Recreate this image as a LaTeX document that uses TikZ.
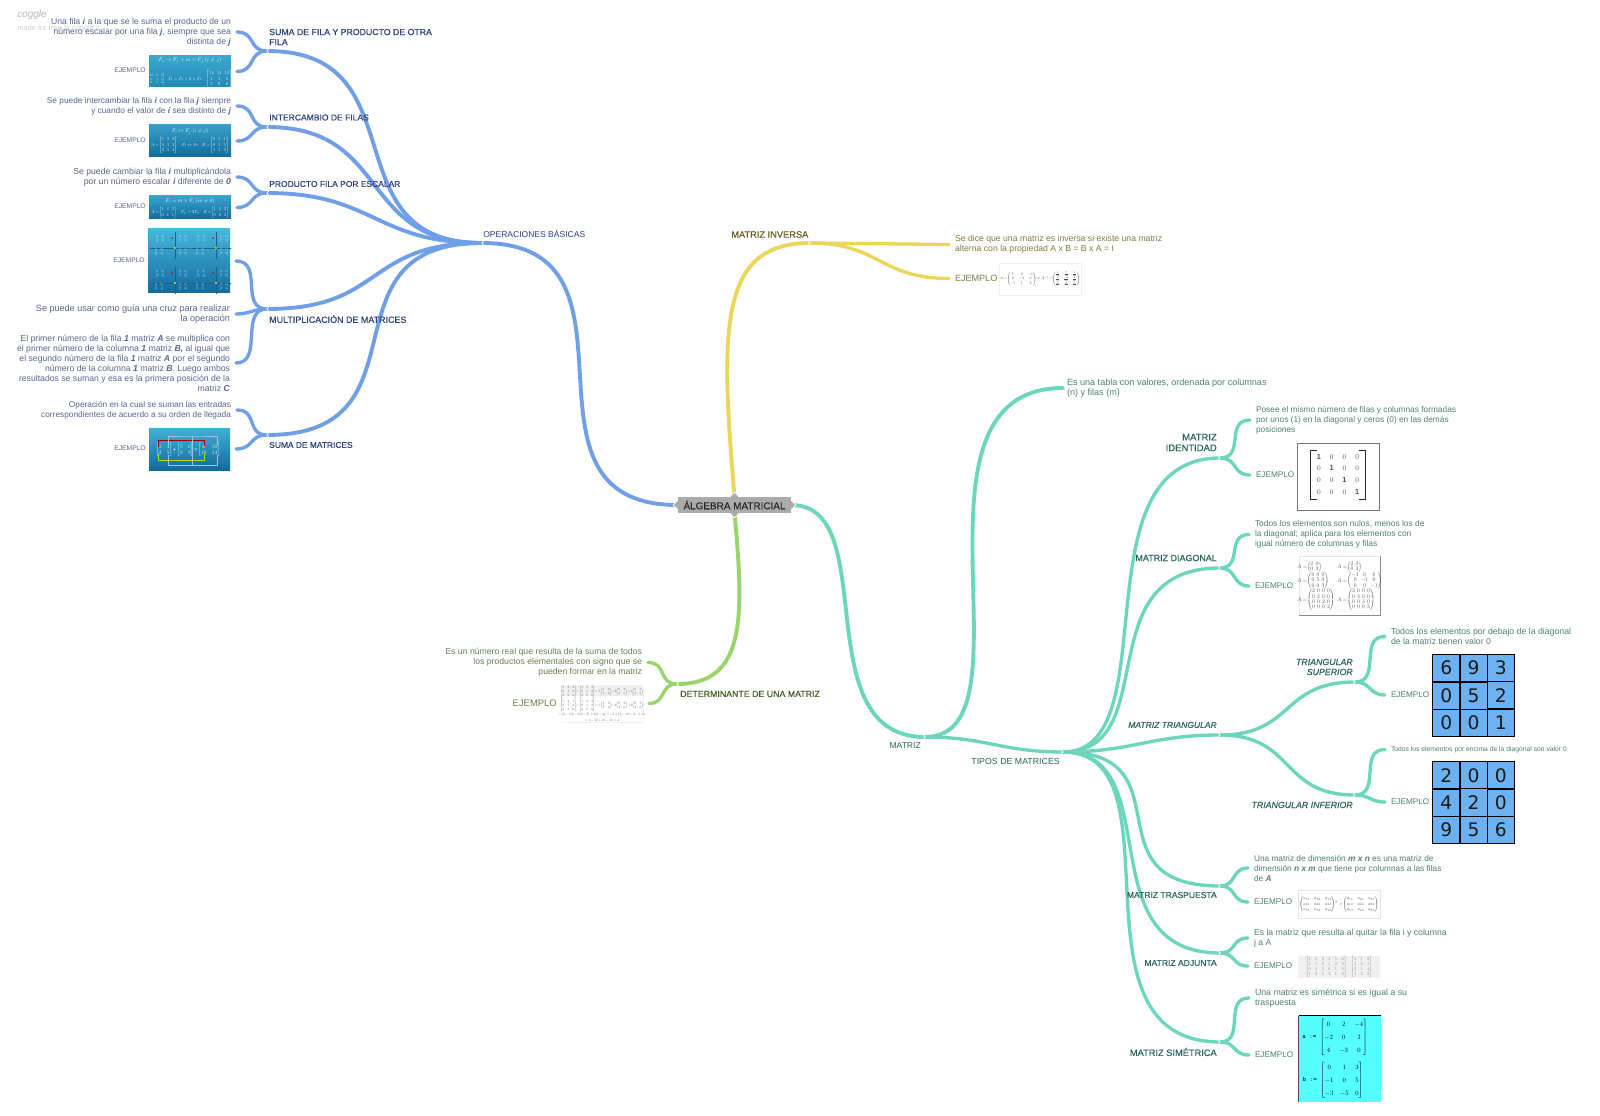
\documentclass[tikz,border=0pt]{standalone}
\usepackage{amsmath}
\usepackage{fontspec}
\setmainfont{Liberation Sans}
\newfontfamily\labelfont[FakeBold=0.25]{Liberation Sans}
\newfontfamily\digitfont{DejaVu Sans}
\usetikzlibrary{positioning,matrix,shapes.geometric,calc}
\pgfdeclarelayer{back}
\pgfsetlayers{back,main}
\definecolor{bluelink}{HTML}{6F9FE6}
\definecolor{yellowlink}{HTML}{ECD65A}
\definecolor{tealink}{HTML}{6AD6BE}
\definecolor{greenlink}{HTML}{98D46A}
\definecolor{bluetext}{HTML}{56678F}
\definecolor{bluelabel}{HTML}{2C4080}
\definecolor{yellowtext}{HTML}{857A45}
\definecolor{yellowlabel}{HTML}{6A5E1E}
\definecolor{tealtext}{HTML}{4F8076}
\definecolor{teallabel}{HTML}{28635A}
\definecolor{greentext}{HTML}{6B8052}
\definecolor{greenlabel}{HTML}{3F5E24}
\definecolor{cellblue}{HTML}{6CB2F2}
\definecolor{picdeep}{HTML}{126A9D}
\definecolor{picline}{HTML}{1A5F85}
\definecolor{picpale}{HTML}{9CC5DC}
\definecolor{symcyan}{HTML}{55FFFF}
\definecolor{pica}{HTML}{3AA8CF}
\definecolor{picb}{HTML}{2389B5}
\definecolor{picc}{HTML}{35A0C8}
\definecolor{picd}{HTML}{35A5CC}
\definecolor{pice}{HTML}{45B8DC}
\definecolor{picf}{HTML}{40B0D6}
\newcommand{\bi}[1]{\textbf{\textit{#1}}}
\newcommand{\fs}[1]{\fontsize{#1pt}{7.5pt}\selectfont}
\newcommand{\smat}[1]{$\left[\begin{matrix}#1\end{matrix}\right]$}
\newcommand{\rmat}[1]{$\left(\begin{matrix}#1\end{matrix}\right)$}
\tikzset{
  blink/.style={bluelink,line width=2.5pt,line cap=round},
  ylink/.style={yellowlink,line width=2.5pt,line cap=round},
  tlink/.style={tealink,line width=2.5pt,line cap=round},
  glink/.style={greenlink,line width=2.5pt,line cap=round},
  trunk/.style={line width=2.9pt},
  chev/.style={white,line width=.6pt},
  leaf/.style={inner sep=0pt,outer xsep=4.5pt,yshift=-.75pt,font=\fs{6.4}},
  bleaf/.style={leaf,anchor=east,align=right,bluetext},
  yleaf/.style={leaf,anchor=west,align=left,yellowtext},
  tleaf/.style={leaf,anchor=west,align=left,tealtext},
  gleaf/.style={leaf,anchor=east,align=right,greentext},
  lab/.style={inner sep=0pt,font=\labelfont\fs{6.4}},
  blab/.style={lab,anchor=west,align=left,bluelabel},
  tlab/.style={lab,anchor=east,align=right,teallabel},
  ejem/.style={inner sep=0pt,outer xsep=4.5pt,font=\fs{6.15}},
  pict/.style={inner sep=0pt,outer xsep=4.5pt},
  bluepic/.style={pict,anchor=east,top color=#1,bottom color=picdeep},
  pictxt/.style={inner sep=0pt,white,transform shape},
  darktxt/.style={inner sep=0pt,black!70,transform shape},
  digit/.style={draw=black,line width=.7pt,fill=cellblue,minimum size=20.3pt,inner sep=0pt,font=\digitfont\fontsize{14pt}{14pt}\selectfont,text=black!90},
  sidemark/.style={diamond,fill=black!33,draw=white,line width=.5pt,minimum size=7pt,inner sep=0pt},
}
\begin{document}
\begin{tikzpicture}[x=.75pt,y=-.75pt]
\useasboundingbox (0,0) rectangle (1600,1116);
% logo
\node[inner sep=0pt,anchor=west,black!28,font=\fontsize{7.5pt}{8pt}\itshape] (logo) at (17,15) {coggle};
\node[inner sep=0pt,anchor=west,black!18,font=\fontsize{5.6pt}{7pt}\selectfont] (madefor) at (17,29) {made for free at coggle.it};
% centre
\node[fill=black!33,minimum width=84.75pt,minimum height=12pt,inner sep=0pt,text=black!85,font=\labelfont\fontsize{7.45pt}{8pt}\selectfont] (ctr) at (734.5,505) {ÁLGEBRA MATRICIAL};
% joints
\foreach \n/\x/\y in {ops/482/243,suma/267/51,inter/267/127,prodf/267/193,mult/267/309,summ/267/435,
  inv/810/243,det/677/684,matz/925/737,tipos/1063/752,iden/1220/458,diag/1220/568,tria/1220/735,
  sup/1355/682,inf/1355/795,tras/1220/886,adju/1220/953,sime/1220/1042}
  \coordinate (\n) at (\x,\y);
% operaciones
\node[blab,font=\fs{6.4}] (opsl) at (483,233.5) {OPERACIONES BÁSICAS};
\node[blab,font=\labelfont\fs{6.56}] (sumal) at (269,37) {SUMA DE FILA Y PRODUCTO DE OTRA\\FILA};
\node[blab] (interl) at (269,117.5) {INTERCAMBIO DE FILAS};
\node[blab,font=\labelfont\fs{6.35}] (prodl) at (269,184) {PRODUCTO FILA POR ESCALAR};
\node[blab,font=\labelfont\fs{6.7}] (multl) at (269,319) {MULTIPLICACIÓN DE MATRICES};
\node[blab,font=\labelfont\fs{6.3}] (summl) at (269,445) {SUMA DE MATRICES};
\node[bleaf,font=\fs{6.45}] (sumat) at (237,31) {Una fila \bi{i} a la que se le suma el producto de un\\número escalar por una fila \bi{j}, siempre que sea\\distinta de \bi{j}};
\node[bleaf,font=\fs{6.23}] (intert) at (237,105) {Se puede intercambiar la fila \bi{i} con la fila \bi{j} siempre\\y cuando el valor de \bi{i} sea distinto de \bi{j}};
\node[bleaf,font=\fs{6.5}] (prodt) at (237,176) {Se puede cambiar la fila \bi{i} multiplicándola\\por un número escalar \bi{i} diferente de \bi{0}};
\node[bleaf,font=\fs{6.8}] (multa) at (236,313) {Se puede usar como guía una cruz para realizar\\la operación};
\node[bleaf,font=\fs{6.5}] (multb) at (236,362) {El primer número de la fila \bi{1} matriz \bi{A} se multiplica con\\el primer número de la columna \bi{1} matriz \bi{B,} al igual que\\el segundo número de la fila \bi{1} matriz \bi{A} por el segundo\\número de la columna \bi{1} matriz \bi{B}. Luego ambos\\resultados se suman y esa es la primera posición de la\\matriz \bi{C}};
\node[bleaf,font=\fs{6.23}] (summt) at (237,409) {Operación en la cual se suman las entradas\\correspondientes de acuerdo a su orden de llegada};
% ejemplos azules
\node[bluepic=pica,bottom color=picb,minimum width=61.5pt,minimum height=23.25pt] (sumap) at (237,71.5) {};
\node[bluepic=picc,minimum width=61.5pt,minimum height=24pt] (interp) at (237,141) {};
\node[bluepic=picd,minimum width=61.5pt,minimum height=17.25pt] (prodp) at (237,207.5) {};
\node[bluepic=pice,minimum width=61.5pt,minimum height=48pt] (multp) at (236,261) {};
\node[bluepic=picf,minimum width=60.75pt,minimum height=31.5pt] (summp) at (236,449) {};
\node[pictxt,scale=.42] (sumaf) at (190,60) {$F_i\to F_j+m\times F_j\ (i\neq j)$};
\node[pictxt,scale=.24] (sumam) at (190,79) {\smat{12&6&3\\1&3&5\\3&0&6}\quad\Large$F_1=F_1+2\times F_2$\quad\smat{14&12&13\\1&3&5\\3&0&6}};
\node[pictxt,scale=.4] (interf) at (190,131) {$F_i\leftrightarrow F_j\ (i\neq j)$};
\node[pictxt,scale=.23] (interm) at (190,145) {\Large$A=$\smat{1&5&2\\0&1&3\\2&5&1}\quad$F_1\leftrightarrow F_3$\quad\Large$B=$\smat{2&5&1\\0&1&3\\1&5&2}};
\node[pictxt,scale=.4] (prodf2) at (190,201) {$F_i=m\times F_i\ (m\neq 0)$};
\node[pictxt,scale=.23] (prodm) at (190,212.5) {\Large$A=$\smat{1&3&2\\0&4&1}\quad$F_2\to 2F_2$\quad\Large$B=$\smat{1&3&2\\0&8&2}};
% cruces
\foreach \qx/\qy/\qn in {150/232/a,191/232/b,150/267/c,191/267/d}{
  \draw[picline,line width=.35pt] (\qx,\qy+16) -- (\qx+40,\qy+16);
  \draw[picline,line width=.35pt] (\qx+25,\qy) -- (\qx+25,\qy+27);
  \node[pictxt,scale=.22] (qm\qn) at (\qx+10,\qy+7) {\smat{1&2\\3&4}};
  \node[pictxt,scale=.22] (qr\qn) at (\qx+33,\qy+7) {\smat{5&6\\7&8}};
  \node[pictxt,scale=.22] (qs\qn) at (\qx+9,\qy+20) {\smat{1&2\\3&4}};
  \node[pictxt,scale=.22] (qt\qn) at (\qx+33,\qy+20) {\smat{5&6\\7&8}};
  \fill[yellow!90!green] (\qx+25,\qy+16) circle (1.1);
  \fill[red!70!black] (\qx+22,\qy+6) circle (.8);
}
% suma de matrices
\draw[red!60!black,line width=.4pt] (158,447) |- (204,440) -- (204,447);
\draw[yellow!70!green,line width=.4pt] (158,454) |- (204,460) -- (204,454);
\draw[picpale,line width=.4pt] (168,445) |- (193,436) |- (217,436) -- (217,445);
\draw[picpale,line width=.4pt] (168,455) |- (192,465) -- (192,436);
\draw[picpale,line width=.4pt] (192,465) -| (217,455);
\node[pictxt,scale=.4] (summe) at (188,450) {\smat{1&4\\2&5}\,+\,\smat{5&6\\8&9}\,=\,\smat{6&10\\10&14}};
% ejemplo etiquetas azules
\foreach \n/\x/\y in {a/146/70,b/146/140,c/146/206,d/145/260,e/146/448}
  \node[inner sep=0pt,anchor=east,bluetext,font=\fs{5.05}] (bej\n) at (\x,\y) {EJEMPLO};
% inversa
\node[lab,anchor=west,yellowlabel,font=\labelfont\fs{6.95}] (invl) at (731,234.5) {MATRIZ INVERSA};
\node[yleaf,font=\fs{6.5}] (invt) at (949,243.5) {Se dice que una matriz es inversa si existe una matriz\\alterna con la propiedad A x B = B x A = I};
\node[ejem,anchor=west,yellowtext,font=\fs{6.8}] (invj) at (949,278.5) {EJEMPLO};
\node[draw=black!6,fill=white,minimum width=61.5pt,minimum height=24pt,inner sep=0pt] (invp) at (1040,279) {};
\node[darktxt,scale=.29] (invm) at (1040,279) {$A=$\rmat{1&2&-1\\2&-3&0\\-1&1&3}$\Rightarrow A^{-1}=$\rmat{\frac{3}{20}&\frac{7}{20}&\frac{3}{20}\\\frac{6}{20}&\frac{-2}{20}&\frac{2}{20}\\\frac{1}{20}&\frac{3}{20}&\frac{7}{20}}};
% determinante
\node[lab,anchor=west,greenlabel,font=\labelfont\fs{6.6}] (detl) at (680,694) {DETERMINANTE DE UNA MATRIZ};
\node[gleaf,font=\fs{6.5}] (dett) at (648,661.5) {Es un número real que resulta de la suma de todos\\los productos elementales con signo que se\\pueden formar en la matriz};
\node[fill=white,draw=black!5,minimum width=61.5pt,minimum height=27.5pt,pict] (detp) at (602,703.5) {};
\fill[black!6] (562,686) rectangle (642,696);
\node[darktxt,scale=.25,anchor=north,align=center] (detm) at (602,686) {\smat{1&2&3\\0&1&2\\4&5&6}$=$\smat{1&2&3\\0&1&2\\4&5&6}$=1$\rmat{1&2\\5&6}$-2$\rmat{0&2\\4&6}$+3$\rmat{0&1\\4&5}\\[3pt]\smat{1&2&3\\0&1&2\\4&5&6}$=$\smat{1&2&3\\0&1&2\\4&5&6}$=1$\rmat{1&2\\5&6}$-2$\rmat{0&2\\4&6}$+3$\rmat{0&1\\4&5}\\[4pt]$=(6-10)-2(0-8)+3(0-4)=-4+16-12+(1\cdot5\cdot6)$\\[6pt]$=4-12+16-12=4$};
\node[inner sep=0pt,anchor=east,greentext,font=\fs{7.07}] (detj) at (557,703) {EJEMPLO};
% matriz
\node[inner sep=0pt,anchor=east,teallabel,font=\fs{6.4}] (matzl) at (921,746) {MATRIZ};
\node[inner sep=0pt,anchor=east,teallabel,font=\fs{6.6}] (tipol) at (1060,761) {TIPOS DE MATRICES};
\node[inner sep=0pt,outer xsep=3pt,anchor=west,tealtext,align=left,yshift=-.75pt,font=\fontsize{6.8pt}{8pt}\selectfont] (tabla) at (1063,387) {Es una tabla con valores, ordenada por columnas\\(n) y filas (m)};
% tipos
\node[tlab,font=\labelfont\fontsize{7.1pt}{8pt}\selectfont] (idenl) at (1217,442.5) {MATRIZ\\IDENTIDAD};
\node[tlab,font=\labelfont\fs{6.7}] (diagl) at (1217,558) {MATRIZ DIAGONAL};
\node[tlab,font=\labelfont\itshape\fs{6.4}] (trial) at (1217,725) {MATRIZ TRIANGULAR};
\node[tlab,font=\labelfont\itshape\fs{6.6}] (supl) at (1353,667) {TRIANGULAR\\SUPERIOR};
\node[tlab,font=\labelfont\itshape\fs{6.6}] (infl) at (1353,805) {TRIANGULAR INFERIOR};
\node[tlab] (trasl) at (1217,895) {MATRIZ TRASPUESTA};
\node[tlab] (adjul) at (1217,963) {MATRIZ ADJUNTA};
\node[tlab,font=\labelfont\fs{6.95}] (simel) at (1217,1052) {MATRIZ SIMÉTRICA};
\node[tleaf,font=\fs{6.25}] (ident) at (1250,419) {Posee el mismo número de filas y columnas formadas\\por unos (1) en la diagonal y ceros (0) en las demás\\posiciones};
\node[tleaf,font=\fs{6.3}] (diagt) at (1249,533.5) {Todos los elementos son nulos, menos los de\\la diagonal; aplica para los elementos con\\igual número de columnas y filas};
\node[tleaf,font=\fs{6.55}] (supt) at (1385,635.5) {Todos los elementos por debajo de la diagonal\\de la matriz tienen valor 0};
\node[tleaf,font=\fs{5.07}] (inft) at (1385,748.5) {Todos los elementos por encima de la diagonal son valor 0};
\node[tleaf,font=\fs{6.23}] (trast) at (1248,867) {Una matriz de dimensión \bi{m x n} es una matriz de\\dimensión \bi{n x m} que tiene por columnas a las filas\\de \bi{A}};
\node[tleaf,font=\fs{6.5}] (adjut) at (1248,937) {Es la matriz que resulta al quitar la fila i y columna\\j a A};
\node[tleaf,font=\fs{6.58}] (simet) at (1249,997) {Una matriz es simétrica si es igual a su\\traspuesta};
\foreach \n/\x/\y in {iden/1250/475,diag/1249/586,sup/1385/695,inf/1385/802,tras/1248/902,adju/1248/966,sime/1249/1055}
  \node[ejem,anchor=west,tealtext] (\n j) at (\x,\y) {EJEMPLO};
% imagenes teal
\node[draw=black!55,line width=.5pt,fill=white,minimum width=61.5pt,minimum height=50pt,inner sep=0pt] (idenp) at (1338,476.5) {};
\node[inner sep=0pt,black!70,scale=.55,transform shape] (idenm) at (1338,474.5) {\def\arraystretch{1.33}\setlength\arraycolsep{5.9pt}$\begin{matrix}\mathbf{1}&0&0&0\\0&\mathbf{1}&0&0\\0&0&\mathbf{1}&0\\0&0&0&\mathbf{1}\end{matrix}$};
\draw[black!85,line width=.9pt] ([shift={(20,-26)}]idenp.west) -- ++(-6,0) -- ++(0,49) -- ++(6,0);
\draw[black!85,line width=.9pt] ([shift={(-20,-26)}]idenp.east) -- ++(6,0) -- ++(0,49) -- ++(-6,0);
\node[fill=white,draw=black!10,minimum width=61pt,minimum height=44pt,inner sep=0pt] (diagp) at (1339.5,586) {};
\draw[black!45,line width=.6pt] (diagp.north east) -- (diagp.south east) -- (diagp.south west);
\node[darktxt,scale=.42] (diagm) at (1339.5,586) {\def\arraystretch{.8}\setlength\arraycolsep{2pt}\setlength\tabcolsep{2pt}\begin{tabular}{ll}$A=$\rmat{2&0\\0&3}&$A=$\rmat{2&0\\0&3}\\[3pt]$A=$\rmat{0&0&0\\0&5&0\\0&0&3}&$A=$\rmat{-1&0&0\\0&-1&0\\0&0&-1}\\[3pt]$A=$\rmat{2&0&0&0\\0&2&0&0\\0&0&2&0\\0&0&0&2}&$A=$\rmat{3&0&0&0\\0&3&0&0\\0&0&3&0\\0&0&0&3}\end{tabular}};
\matrix (supm) at (1473.5,695.5) [matrix of nodes,nodes={digit},inner sep=0pt,column sep=-.6pt,row sep=-.6pt] {6&9&3\\0&5&2\\0&0&1\\};
\matrix (infm) at (1473.5,802.5) [matrix of nodes,nodes={digit},inner sep=0pt,column sep=-.6pt,row sep=-.6pt] {2&0&0\\4&2&0\\9&5&6\\};
\node[fill=white,draw=black!10,minimum width=61.5pt,minimum height=21pt,inner sep=0pt] (trasp) at (1339,904) {};
\node[darktxt,scale=.34] (trasm) at (1339,904) {\rmat{a_{11}&a_{12}&a_{13}\\a_{21}&a_{22}&a_{23}\\a_{31}&a_{32}&a_{33}}$^T=$\rmat{a_{11}&a_{21}&a_{31}\\a_{12}&a_{22}&a_{32}\\a_{13}&a_{23}&a_{33}}};
\node[fill=black!6,minimum width=61.5pt,minimum height=16.5pt,inner sep=0pt] (adjup) at (1339,967) {};
\node[darktxt,scale=.33,black!50] (adjum) at (1339,967) {\smat{1&2&3&4&5&6\\2&1&0&1&2&3\\0&1&5&6&1&0\\1&2&1&4&1&2}\quad\smat{4&1&2\\3&2&1\\2&1&4\\1&3&2}};
\node[fill=symcyan,minimum width=61.5pt,minimum height=64.5pt,inner sep=0pt] (simep) at (1340,1059) {};
\draw[black,line width=.6pt] (simep.north west) -- (simep.north east);
\draw[black!70,line width=.4pt] (simep.north west) -- (simep.south west);
\node[inner sep=0pt,black,scale=.5,transform shape,font=\ttfamily\bfseries] (simea) at (1335,1037) {a := \def\arraystretch{1.6}\smat{0&2&-4\\-2&0&3\\4&-3&0}};
\node[inner sep=0pt,black,scale=.5,transform shape,font=\ttfamily\bfseries] (simeb) at (1333,1080) {b := \def\arraystretch{1.6}\smat{0&1&3\\-1&0&5\\-3&-5&0}};
% ramas
\begin{pgfonlayer}{back}
\path[fill=white] (0,0) rectangle (1600,1116);
\foreach \a/\b/\k in {ops/ctr.west/.92,ops/suma/.72,ops/inter/.58,ops/prodf/.5,ops/mult/.55,ops/summ/.78}
  \draw[blink,trunk] (\a) .. controls ($(\a)!\k!(\a -| \b)$) and ($(\b)!\k!(\b -| \a)$) .. (\b);
\foreach \a/\b/\k in {suma/sumat.east/.63,suma/sumap.east/.63,inter/intert.east/.65,inter/interp.east/.58,
  prodf/prodt.east/.6,prodf/prodp.east/.58,mult/multp.east/.9,mult/multa.east/.45,mult/multb.east/.9,
  summ/summt.east/.7,summ/summp.east/.58}
  \draw[blink] (\a) .. controls ($(\a)!\k!(\a -| \b)$) and ($(\b)!\k!(\b -| \a)$) .. (\b);
\draw[ylink,trunk] (ctr.north) .. controls +(-14,-167) and +(-92,0) .. (inv);
\foreach \a/\b/\k in {inv/invt.west/.5,inv/invj.west/.5}
  \draw[ylink] (\a) .. controls ($(\a)!\k!(\a -| \b)$) and ($(\b)!\k!(\b -| \a)$) .. (\b);
\draw[glink,trunk] (ctr.south) .. controls +(10,107) and +(68,0) .. (det);
\foreach \a/\b/\k in {det/dett.east/.67,det/detp.east/.63}
  \draw[glink] (\a) .. controls ($(\a)!\k!(\a -| \b)$) and ($(\b)!\k!(\b -| \a)$) .. (\b);
\draw[tlink,trunk] (ctr.east) .. controls +(92,0) and +(-121,0) .. (matz);
\draw[tlink,trunk] (matz) .. controls +(115,0) and +(-172,0) .. (tabla.west);
\draw[tlink] (tipos) .. controls +(107,0) and +(-145,0) .. (iden);
\draw[tlink] (tipos) .. controls +(102,0) and +(-135,0) .. (diag);
\draw[tlink] (tipos) .. controls +(127,0) and +(-135,0) .. (tras);
\draw[tlink] (tipos) .. controls +(107,0) and +(-135,0) .. (adju);
\draw[tlink] (tipos) .. controls +(122,0) and +(-160,0) .. (sime);
\foreach \a/\b/\k in {matz/tipos/.45,tipos/tria/.45,tria/sup/.55,tria/inf/.56,
  iden/ident.west/.85,iden/idenj.west/.6,diag/diagt.west/.8,diag/diagj.west/.6,sup/supt.west/.9,sup/supj.west/.55,
  inf/inft.west/.9,inf/infj.west/.5,tras/trast.west/.6,tras/trasj.west/.6,adju/adjut.west/.6,adju/adjuj.west/.58,
  sime/simet.west/.9,sime/simej.west/.58}
  \draw[tlink] (\a) .. controls ($(\a)!\k!(\a -| \b)$) and ($(\b)!\k!(\b -| \a)$) .. (\b);
% marcas del centro
\foreach \s/\m in {north/mn,south/ms,west/mw,east/me}
  \node[sidemark] (\m) at (ctr.\s) {};
\end{pgfonlayer}
% juntas blancas
\foreach \h in {ops,suma,inter,prodf,mult,summ,det}
  \draw[chev] ([shift={(2,-2.5)}]\h) -- ++(-2,2.5) -- ++(2,2.5);
\foreach \h in {inv,matz,tipos,iden,diag,tria,sup,inf,tras,adju,sime}
  \draw[chev] ([shift={(-2,-2.5)}]\h) -- ++(2,2.5) -- ++(-2,2.5);
\end{tikzpicture}
\end{document}
